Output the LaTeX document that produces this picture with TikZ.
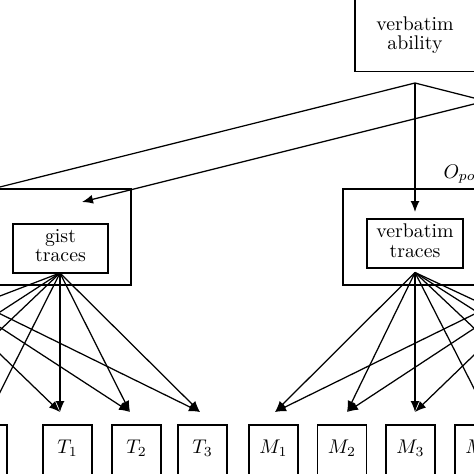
\RequirePackage{fix-cm}
\documentclass[tikz,border=0pt]{standalone}
\usepackage{graphicx}
\usetikzlibrary{arrows.meta}
\newcommand\bigtxt[1]{\scalebox{1.98}{\fontsize{10}{9.7}\selectfont\begin{tabular}{@{}c@{}}#1\end{tabular}}}
\tikzset{
  every picture/.style={line width=1.25pt},
  boxnode/.style={draw, line width=1.25pt, inner sep=0pt, align=center},
  outerbox/.style={draw, line width=1.25pt, inner sep=0pt},
  indbox/.style={boxnode, minimum width=49pt, minimum height=50pt},
  arr/.style={-{Latex[length=11pt,width=9pt]}, line width=1.25pt},
}
\begin{document}
\begin{tikzpicture}[x=1pt,y=-1pt]
\useasboundingbox (0,0) rectangle (474,474);
\clip (0,0) rectangle (474,474);

% ability box (top)
\node[outerbox, minimum width=120pt, minimum height=80pt, anchor=south,
      label={[name=abilitytext, inner sep=0pt, yshift=-4.5pt]center:\bigtxt{verbatim\\ability}}]
      (ability) at (415,72) {};

% outer boxes
\node[outerbox, minimum width=142pt, minimum height=96pt] (gistouter) at (60,237) {};
\node[outerbox, minimum width=144pt, minimum height=96pt] (verbouter) at (415,237) {};

% inner trace boxes
\node[boxnode, minimum width=95pt, minimum height=49pt] (gist) at (60.5,248.5) {\bigtxt{gist\\traces}};
\node[boxnode, minimum width=96pt, minimum height=49pt] (verb) at (415,243.5) {\bigtxt{verbatim\\traces}};

% label
\node[anchor=base west, inner sep=0pt] (olabel) at (443,178) {\scalebox{1.98}{$O_{pos}$}};

% indicator boxes
\node[indbox] (T0) at (-17.5,450) {};
\node[indbox] (T1) at (67.5,450) {\bigtxt{$T_1$}};
\node[indbox] (T2) at (136.5,450) {\bigtxt{$T_2$}};
\node[indbox] (T3) at (202.5,450) {\bigtxt{$T_3$}};
\node[indbox] (M1) at (273.5,450) {\bigtxt{$M_1$}};
\node[indbox] (M2) at (342,450) {\bigtxt{$M_2$}};
\node[indbox] (M3) at (410.5,450) {\bigtxt{$M_3$}};
\node[indbox] (M4) at (479.5,450) {\bigtxt{$M_4$}};

% coordinates
\coordinate (aapex) at (415,83);
\coordinate (bapex) at (558,83);
\coordinate (vtip) at (415,212);
\coordinate (ltip) at (-60,202);
\coordinate (rtip) at (883,202);
\coordinate (gtip) at (82,202);

\coordinate (gapex) at (60,273);
\coordinate (vapex) at (415,272.5);
\coordinate (lapex) at (-85,272);
\coordinate (rapex) at (560,272);

\coordinate (t1tip) at (60,412);
\coordinate (t2tip) at (130,412);
\coordinate (t3tip) at (200,412);
\coordinate (m1tip) at (275,412);
\coordinate (m2tip) at (347,412);
\coordinate (m3tip) at (415,412);
\coordinate (gl1) at (-10,412);
\coordinate (gl2) at (-86,412);
\coordinate (gl3) at (-154,412);
\coordinate (gl4) at (-303,412);
\coordinate (vr1) at (486,412);
\coordinate (vr2) at (563,412);
\coordinate (vr3) at (634,412);
\coordinate (vr4) at (714,412);

% top arrows
\draw[arr] (aapex) -- (vtip);
\draw[arr] (aapex) -- (ltip);
\draw[arr] (aapex) -- (rtip);
\draw[arr] (bapex) -- (gtip);

% gist fan
\draw[arr] (gapex) -- (t1tip);
\draw[arr] (gapex) -- (t2tip);
\draw[arr] (gapex) -- (t3tip);
\draw[arr] (gapex) -- (gl1);
\draw[arr] (gapex) -- (gl2);
\draw[arr] (gapex) -- (gl3);
\draw[arr] (gapex) -- (gl4);

% left fan into T
\draw[arr] (lapex) -- (t1tip);
\draw[arr] (lapex) -- (t2tip);
\draw[arr] (lapex) -- (t3tip);

% verbatim fan
\draw[arr] (vapex) -- (m1tip);
\draw[arr] (vapex) -- (m2tip);
\draw[arr] (vapex) -- (m3tip);
\draw[arr] (vapex) -- (vr1);
\draw[arr] (vapex) -- (vr2);
\draw[arr] (vapex) -- (vr3);
\draw[arr] (vapex) -- (vr4);

% right fan into M
\draw[arr] (rapex) -- (m1tip);
\draw[arr] (rapex) -- (m2tip);
\draw[arr] (rapex) -- (m3tip);
\end{tikzpicture}
\end{document}
